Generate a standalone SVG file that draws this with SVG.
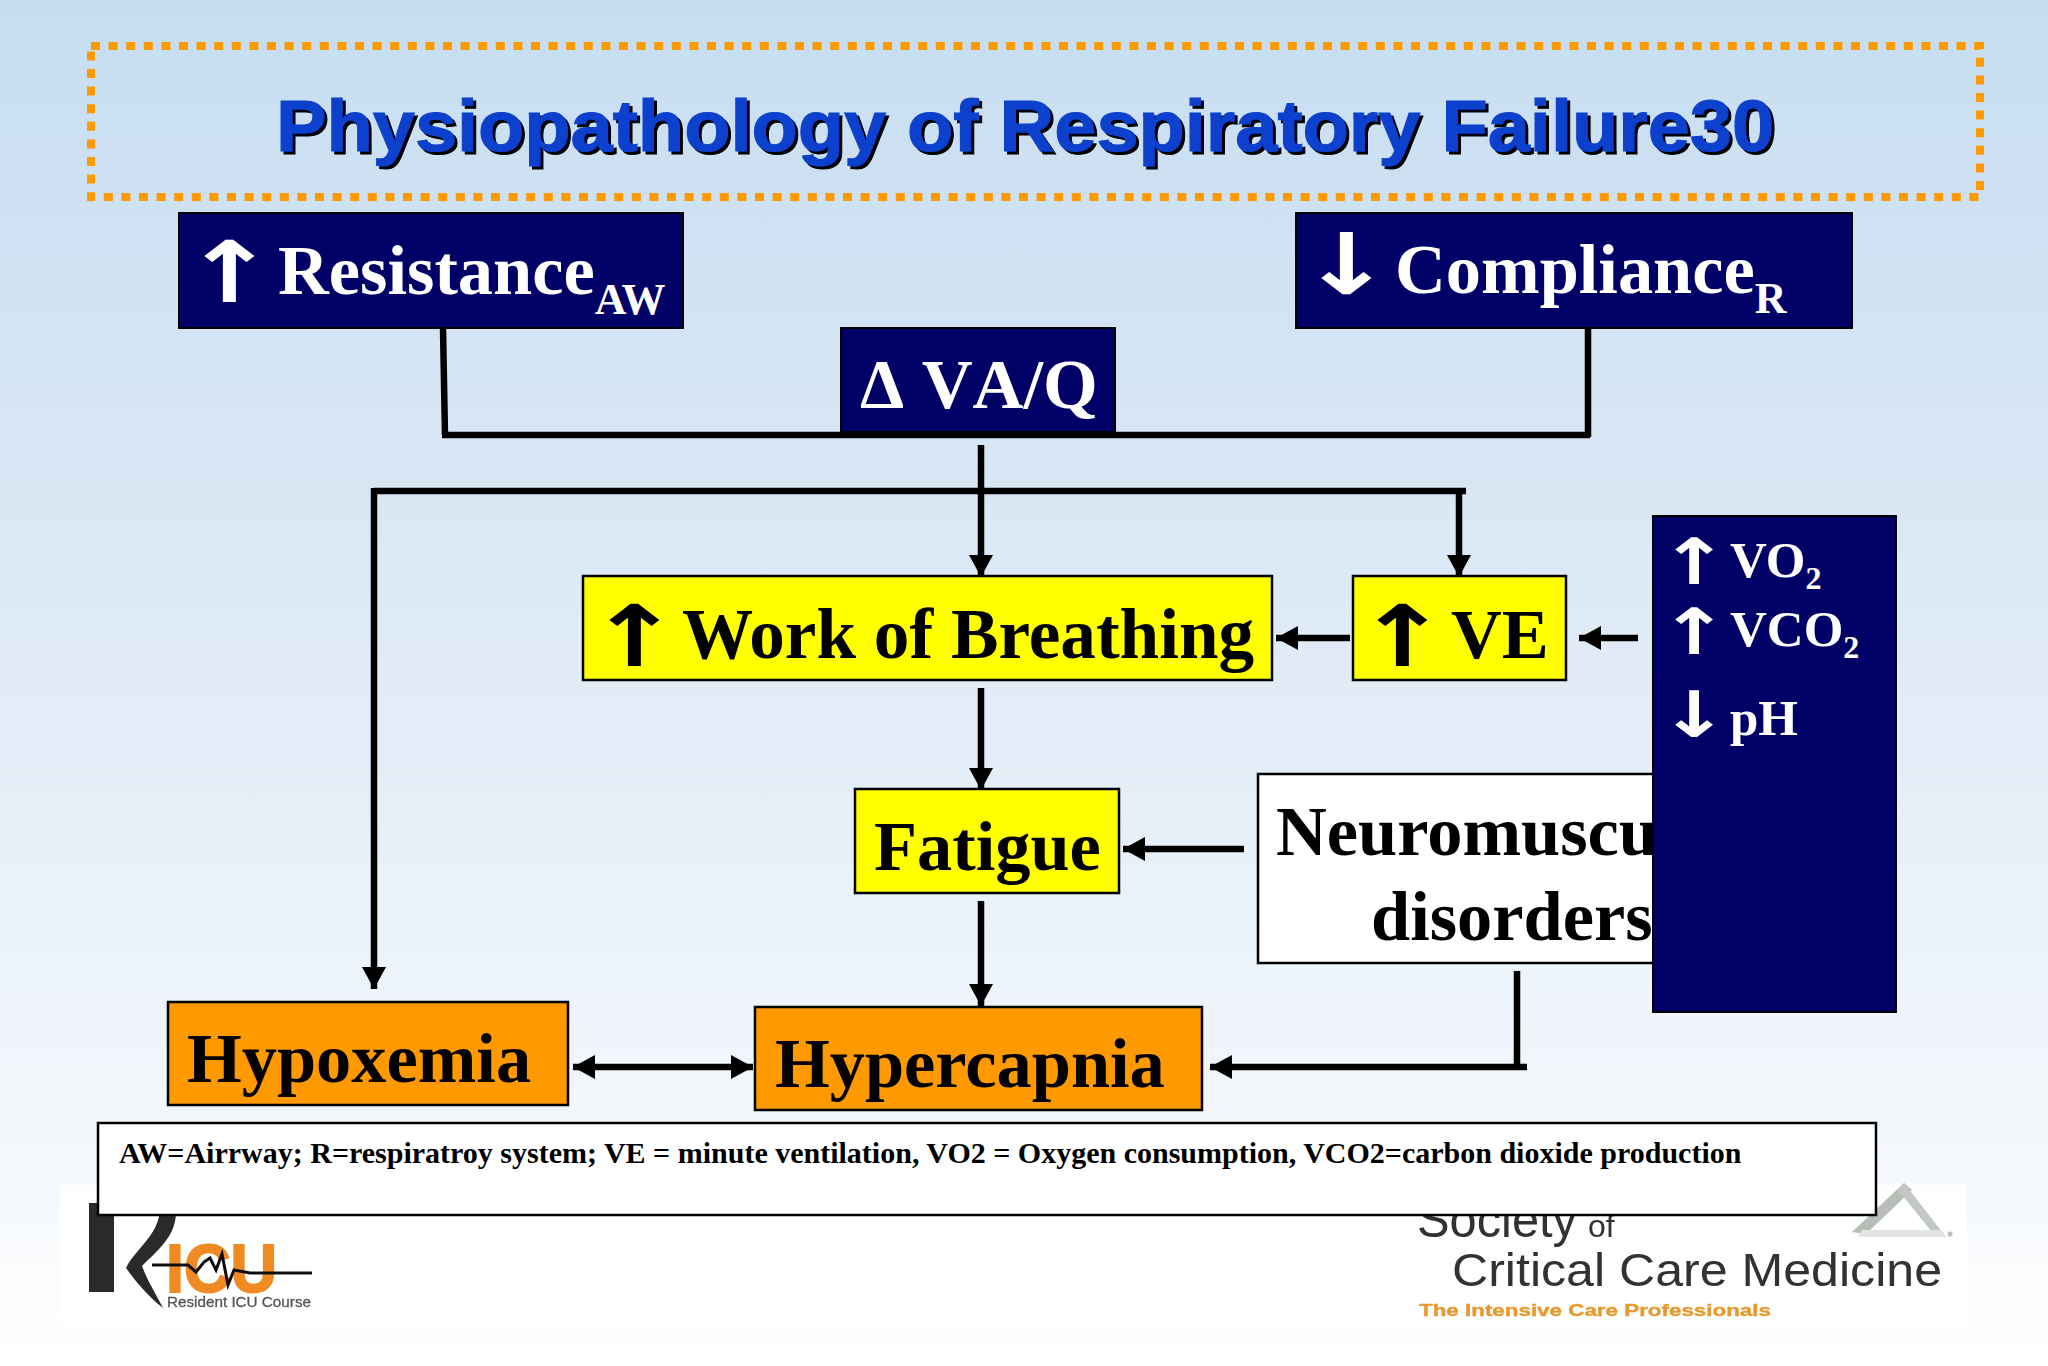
<svg xmlns="http://www.w3.org/2000/svg" width="2048" height="1366" viewBox="0 0 2048 1366">
<style>
.s{font-family:"Liberation Serif","Times New Roman",serif;font-weight:bold}
.w{fill:#fff}.k{fill:#000}
.n{fill:#000066;stroke:#000;stroke-width:2}
.y{fill:#ffff00;stroke:#000;stroke-width:2.5}
.o{fill:#ff9900;stroke:#000;stroke-width:2.5}
.c{fill:none;stroke:#000;stroke-width:6.5}
.f{font-size:70.4px}
.a{font-family:"DejaVu Sans",sans-serif;font-weight:bold;text-anchor:middle;font-size:85px}
.a2{font-size:64px}
.d{font-size:51px}
.sa{font-family:"Liberation Sans",Arial,sans-serif}
</style>
<defs>
<linearGradient id="bg" x1="0" y1="0" x2="0" y2="1">
<stop offset="0" stop-color="#c6ddf1"/><stop offset="0.45" stop-color="#deeaf6"/><stop offset="0.85" stop-color="#f4f8fc"/><stop offset="1" stop-color="#ffffff"/>
</linearGradient>
<marker id="h" markerUnits="userSpaceOnUse" markerWidth="26" markerHeight="26" refX="22" refY="12" orient="auto-start-reverse"><path d="M0 0L22 12L0 24L0 0Z" fill="#000"/></marker>
<filter id="sh" x="-5%" y="-20%" width="110%" height="140%"><feDropShadow dx="3" dy="3" stdDeviation="0.4" flood-color="#000" flood-opacity="1"/></filter>
<filter id="b" x="-5%" y="-20%" width="110%" height="140%"><feGaussianBlur stdDeviation="0.6"/></filter>
</defs>
<rect width="2048" height="1366" fill="url(#bg)"/>
<rect x="60" y="1184" width="1907" height="142" fill="#fff" opacity="0.85"/>

<g id="logo-ricu" filter="url(#b)">
<rect x="89" y="1203" width="25" height="89" fill="#2b2b2b"/>
<path d="M160 1210L176 1212C176 1236 158 1250 142 1266C148 1282 156 1294 163 1308C148 1296 136 1282 126 1268C136 1248 158 1236 160 1210Z" fill="#2b2b2b"/>
<text x="166" y="1292" class="sa" font-size="68" font-weight="bold" fill="#f08a24" stroke="#f08a24" stroke-width="2" textLength="111" lengthAdjust="spacingAndGlyphs">ICU</text>
<polyline points="152,1265 188,1265 196,1272 204,1262 210,1258 216,1270 222,1254 228,1285 234,1270 250,1273 312,1273" fill="none" stroke="#111" stroke-width="3"/>
<text x="167" y="1307" class="sa" font-size="15" fill="#555" stroke="#555" stroke-width="0.3" textLength="144" lengthAdjust="spacingAndGlyphs">Resident ICU Course</text>
</g>
<g id="logo-sccm" filter="url(#b)">
<path d="M1852 1232L1904 1183L1912 1190L1866 1234Z" fill="#b8bdb8"/>
<path d="M1904 1183L1946 1237L1936 1237L1898 1190Z" fill="#c4c8c4"/>
<path d="M1862 1230L1940 1230L1946 1237L1858 1237Z" fill="#e2e5e2"/>
<circle cx="1950" cy="1234" r="2.5" fill="#b8bdb8"/>
<text x="1417" y="1237" class="sa" font-size="50" fill="#333" textLength="160" lengthAdjust="spacingAndGlyphs">Society</text>
<text x="1588" y="1237" class="sa" font-size="32" fill="#333">of</text>
<text x="1452" y="1286" class="sa" font-size="46" fill="#333" textLength="490" lengthAdjust="spacingAndGlyphs">Critical Care Medicine</text>
<text x="1419" y="1316" class="sa" font-size="17" font-weight="bold" fill="#e8992f" stroke="#e8992f" stroke-width="0.4" textLength="352" lengthAdjust="spacingAndGlyphs">The Intensive Care Professionals</text>
</g>

<g id="title">
<rect x="91" y="46" width="1889" height="151" fill="none" stroke="#ff9900" stroke-width="8" stroke-dasharray="9 8.6"/>
<text x="276" y="151" class="sa" font-size="72" font-weight="bold" fill="#0c40cc" stroke="#0c40cc" stroke-width="1" filter="url(#sh)" textLength="1498" lengthAdjust="spacingAndGlyphs">Physiopathology of Respiratory Failure30</text>
</g>

<g id="connectors">
<path class="c" d="M443 328L445 435M1588 328L1588 437M442 435L1590 435"/>
<path class="c" d="M374 491L1466 491"/>
<path class="c" d="M374 488L374 989" marker-end="url(#h)"/>
<path class="c" d="M1459 491L1459 577" marker-end="url(#h)"/>
<path class="c" d="M981 445L981 577" marker-end="url(#h)"/>
<path class="c" d="M981 688L981 790" marker-end="url(#h)"/>
<path class="c" d="M981 901L981 1006" marker-end="url(#h)"/>
<path class="c" d="M1350 638L1276 638" marker-end="url(#h)"/>
<path class="c" d="M1638 638L1579 638" marker-end="url(#h)"/>
<path class="c" d="M1244 849L1123 849" marker-end="url(#h)"/>
<path class="c" d="M1517 971L1517 1067"/>
<path class="c" d="M1527 1067L1210 1067" marker-end="url(#h)"/>
<path class="c" d="M573 1067L753 1067" marker-start="url(#h)" marker-end="url(#h)"/>
</g>

<g id="resistance"><rect class="n" x="179" y="213" width="504" height="115"/>
<text class="a w" transform="translate(229 302) scale(1.3 1)">↑</text>
<text class="s w f" x="278" y="294">Resistance<tspan font-size="44" dy="20">AW</tspan></text></g>
<g id="compliance"><rect class="n" x="1296" y="213" width="556" height="115"/>
<text class="a w" transform="translate(1346 294) scale(1.3 1)">↓</text>
<text class="s w f" x="1395" y="293">Compliance<tspan font-size="44" dy="20">R</tspan></text></g>
<g id="vaq"><rect class="n" x="841" y="328" width="274" height="104"/>
<text class="s w f" x="860" y="408" style="font-kerning:none">Δ VA/Q</text></g>
<g id="wob"><rect class="y" x="583" y="576" width="689" height="104"/>
<text class="a k" transform="translate(634 666) scale(1.3 1)">↑</text>
<text class="s k" x="682" y="658" font-size="71.2">Work of Breathing</text></g>
<g id="ve"><rect class="y" x="1353" y="576" width="213" height="104"/>
<text class="a k" transform="translate(1402 666) scale(1.3 1)">↑</text>
<text class="s k f" x="1451" y="658">VE</text></g>
<g id="fatigue"><rect class="y" x="855" y="789" width="264" height="104"/>
<text class="s k f" x="874" y="870">Fatigue</text></g>
<g id="neuro"><rect x="1258" y="774" width="420" height="189" fill="#fff" stroke="#000" stroke-width="2.5"/>
<text class="s k f" x="1276" y="855">Neuromuscular</text>
<text class="s k f" x="1371" y="940">disorders</text></g>
<g id="drivers"><rect class="n" x="1653" y="516" width="243" height="496"/>
<text class="a a2 w" transform="translate(1694 584) scale(1.3 1)">↑</text>
<text class="s w d" x="1730" y="577">VO<tspan font-size="32" dy="12">2</tspan></text>
<text class="a a2 w" transform="translate(1694 654) scale(1.3 1)">↑</text>
<text class="s w d" x="1730" y="646">VCO<tspan font-size="32" dy="12">2</tspan></text>
<text class="a a2 w" transform="translate(1694 737) scale(1.3 1)">↓</text>
<text class="s w d" x="1730" y="735">pH</text></g>
<g id="hypoxemia"><rect class="o" x="168" y="1002" width="400" height="103"/>
<text class="s k f" x="187" y="1082">Hypoxemia</text></g>
<g id="hypercapnia"><rect class="o" x="755" y="1007" width="447" height="103"/>
<text class="s k f" x="775" y="1087">Hypercapnia</text></g>
<g id="legend"><rect x="98" y="1123" width="1778" height="92" fill="#fff" stroke="#000" stroke-width="2.5"/>
<text class="s k" x="119" y="1163" font-size="30">AW=Airrway; R=respiratroy system; VE = minute ventilation, VO2 = Oxygen consumption, VCO2=carbon dioxide production</text></g>
</svg>
